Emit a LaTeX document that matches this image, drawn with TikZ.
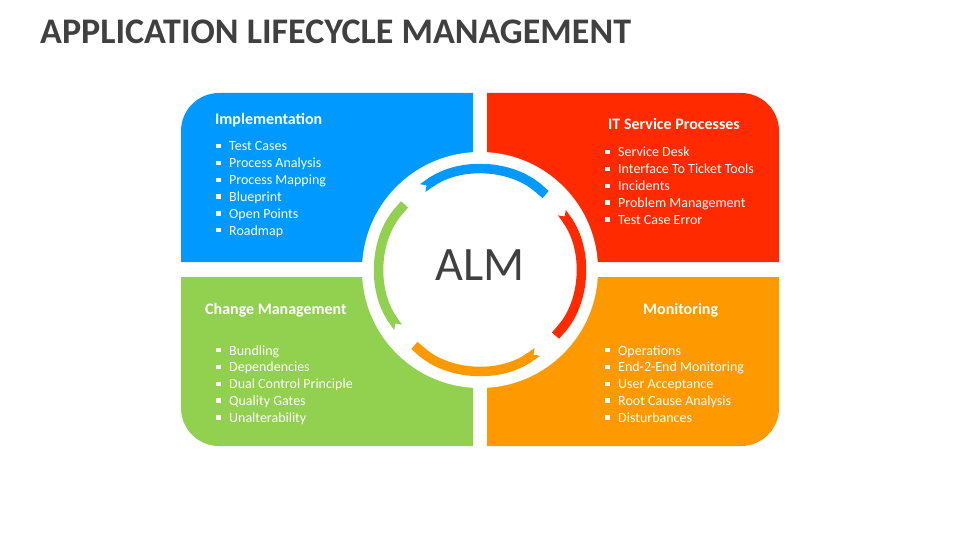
\documentclass[tikz,border=0pt]{standalone}
\usepackage{fontspec}
\setmainfont{Carlito}
\usepackage{xcolor}
\usetikzlibrary{arrows.meta}
\usetikzlibrary{positioning}
\definecolor{cblue}{HTML}{0099FF}
\definecolor{cred}{HTML}{FF2A00}
\definecolor{cgreen}{HTML}{92D050}
\definecolor{corange}{HTML}{FF9900}
\definecolor{cgray}{HTML}{404040}
\newcommand{\sqbul}{\rule[2.7pt]{4.3pt}{4.3pt}\hspace{8.7pt}}

\begin{document}
\begin{tikzpicture}[x=1pt,y=1pt,inner sep=0pt]
	\tikzstyle{head}=[anchor=base west, text=white, font=\fontsize{16}{19}\selectfont\bfseries]
	\tikzstyle{item}=[anchor=base west, text=white, font=\fontsize{14}{17}\selectfont]
	\tikzstyle{ring}=[line width=9.5pt, arrows={Triangle Cap[reversed]-Butt Cap}]
	\useasboundingbox (0,0) rectangle (960,-540);

	\node[anchor=base west, text=cgray, font=\fontsize{36}{40}\selectfont\bfseries] (title) at (40,-43.5) {APPLICATION LIFECYCLE MANAGEMENT};

	\fill[cblue] (473,-93) -- (473,-262) -- (181,-262) -- (181,-131) arc[start angle=180, end angle=90, radius=38] -- cycle;
	\fill[cred] (487,-93) -- (741,-93) arc[start angle=90, end angle=0, radius=38] -- (779,-262) -- (487,-262) -- cycle;
	\fill[cgreen] (181,-277) -- (473,-277) -- (473,-446) -- (219,-446) arc[start angle=270, end angle=180, radius=38] -- cycle;
	\fill[corange] (487,-277) -- (779,-277) -- (779,-408) arc[start angle=0, end angle=-90, radius=38] -- (487,-446) -- cycle;

	\coordinate (c) at (480,-270);
	\fill[white] (c) circle[radius=118];
	\draw[ring, cblue] ([shift={(125:100)}]c) arc[start angle=125, end angle=49, radius=100];
	\draw[ring, cred] ([shift={(35:100)}]c) arc[start angle=35, end angle=-41, radius=100];
	\draw[ring, corange] ([shift={(-55:100)}]c) arc[start angle=-55, end angle=-131, radius=100];
	\draw[ring, cgreen] ([shift={(-145:100)}]c) arc[start angle=-145, end angle=-221, radius=100];
	\node[text=cgray, font=\fontsize{48}{52}\selectfont] (alm) at (480,-265.5) {ALM};

	\node[head] (impl) at (215,-124.7) {Implementation};
	\node[head] (itsp) at (608,-129.5) {IT Service Processes};
	\node[head] (chg) at (205,-314) {Change Management};
	\node[head] (mon) at (643,-314) {Monitoring};

	\foreach \t [count=\i] in {Test Cases,Process Analysis,Process Mapping,Blueprint,Open Points,Roadmap}
		\node[item] (impl\i) at (216,{-151-16.8*(\i-1)}) {\sqbul\t};
	\foreach \t [count=\i] in {Service Desk,Interface To Ticket Tools,Incidents,Problem Management,Test Case Error}
		\node[item] (itsp\i) at (605,{-157-16.8*(\i-1)}) {\sqbul\t};
	\foreach \t [count=\i] in {Bundling,Dependencies,Dual Control Principle,Quality Gates,Unalterability}
		\node[item] (chg\i) at (216,{-355-16.8*(\i-1)}) {\sqbul\t};
	\foreach \t [count=\i] in {Operations,End-2-End Monitoring,User Acceptance,Root Cause Analysis,Disturbances}
		\node[item] (mon\i) at (605,{-355-16.8*(\i-1)}) {\sqbul\t};
\end{tikzpicture}
\end{document}
